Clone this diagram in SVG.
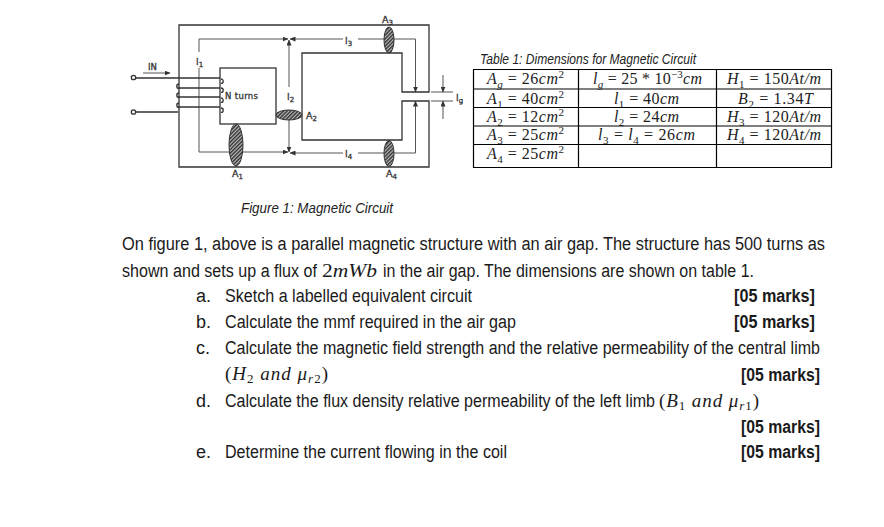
<svg xmlns="http://www.w3.org/2000/svg" width="884" height="527" viewBox="0 0 884 527">
<style>
.c{fill:none;stroke:#333;stroke-width:1.3}
.m{fill:none;stroke:#555;stroke-width:1}
.d{font:9.500px "DejaVu Sans",sans-serif;fill:#333;stroke:#333;stroke-width:.3}
.d tspan{font-size:7px}
.n{font:8.500px "DejaVu Sans",sans-serif;fill:#333;stroke:#333;stroke-width:.3}
.b{font:18px "Liberation Sans",Arial,sans-serif;fill:#1a1a1a}
.bb{font:bold 18px "Liberation Sans",Arial,sans-serif;fill:#1a1a1a}
.i{font:italic 14px "Liberation Sans",Arial,sans-serif;fill:#222}
.t{font:16px "Liberation Serif","Times New Roman",serif;fill:#222}
.x{font:19px "Liberation Serif","Times New Roman",serif;fill:#1a1a1a}
.v{font-style:italic}
.u{font-size:11px}
.su{font-size:13px}
.g{fill:none;stroke:#000;stroke-width:1.2}
</style>
<defs>
<pattern id="h" width="2.600" height="2.600" patternUnits="userSpaceOnUse" patternTransform="rotate(45)"><rect width="2.600" height="2.600" fill="#bbb"/><rect width="1.400" height="2.600" fill="#333"/></pattern>
<marker id="a" markerUnits="userSpaceOnUse" markerWidth="6" markerHeight="5" refX="5.500" refY="2.500" orient="auto"><path d="M0 0L6 2.500L0 5z" fill="#333"/></marker>
</defs>
<rect width="884" height="527" fill="#fff"/>
<g id="core">
<path class="c" d="M179 25H429V92H402V53H302V140H402V101H429V167H179Z"/>
<rect class="c" x="220" y="68" width="56" height="56"/>
</g>
<g id="connectors">
<path class="m" d="M199 52V39H288" marker-end="url(#a)"/>
<path class="m" d="M199 68V152H288" marker-end="url(#a)"/>
<path class="m" d="M343 39H290" marker-end="url(#a)"/>
<path class="m" d="M358 39H415.500V92" marker-end="url(#a)"/>
<path class="m" d="M343 153H290" marker-end="url(#a)"/>
<path class="m" d="M358 153H415.500V101" marker-end="url(#a)"/>
<path class="m" d="M289 87V40" marker-end="url(#a)"/>
<path class="m" d="M289 120V152" marker-end="url(#a)"/>
<path class="m" d="M431 92H453M431 101H453"/>
<path class="m" d="M443 75V92" marker-end="url(#a)"/>
<path class="m" d="M443 119V101" marker-end="url(#a)"/>
<path class="m" d="M143 73H170" marker-end="url(#a)"/>
</g>
<g id="coil">
<path class="c" d="M136 78H220M178 88H220M178 97H220M178 107H220M136 112H178"/>
<circle class="c" cx="133.500" cy="77.500" r="2.200"/><circle class="c" cx="133.500" cy="112" r="2.200"/>
<path class="c" d="M179 84a2.200 2.200 0 0 0 0 4.400M179 93a2.200 2.200 0 0 0 0 4.400M179 103a2.200 2.200 0 0 0 0 4.400M221 79a2.200 2.200 0 0 1 0 4.400M221 88a2.200 2.200 0 0 1 0 4.400M221 98a2.200 2.200 0 0 1 0 4.400M221 108a2.200 2.200 0 0 1 0 4.400"/>
</g>
<g id="sections">
<ellipse cx="236" cy="145" rx="7" ry="21" fill="url(#h)" stroke="#333"/>
<ellipse cx="289" cy="115" rx="13" ry="5" fill="url(#h)" stroke="#333"/>
<ellipse cx="389" cy="40" rx="5" ry="13" fill="url(#h)" stroke="#333"/>
<ellipse cx="389" cy="153.500" rx="5" ry="13" fill="url(#h)" stroke="#333"/>
</g>
<g id="diagram-labels">
<text class="n" x="148" y="70">IN</text>
<text class="d" x="196" y="65">l<tspan dy="2">1</tspan></text>
<text class="n" x="225" y="99" textLength="33">N turns</text>
<text class="d" x="287" y="100">l<tspan dy="2">2</tspan></text>
<text class="d" x="306" y="119">A<tspan dy="2">2</tspan></text>
<text class="d" x="345" y="44">l<tspan dy="2">3</tspan></text>
<text class="d" x="345" y="157">l<tspan dy="2">4</tspan></text>
<text class="d" x="382" y="23">A<tspan dy="2">3</tspan></text>
<text class="d" x="386" y="177">A<tspan dy="2">4</tspan></text>
<text class="d" x="232" y="177">A<tspan dy="2">1</tspan></text>
<text class="d" x="456" y="101">l<tspan dy="2">g</tspan></text>
</g>
<text class="i" x="241" y="213" textLength="152" lengthAdjust="spacingAndGlyphs">Figure 1: Magnetic Circuit</text>
<g id="table">
<text class="i" x="480" y="64" textLength="216" lengthAdjust="spacingAndGlyphs">Table 1: Dimensions for Magnetic Circuit</text>
<text class="t" x="487" y="84" textLength="77"><tspan class="v">A</tspan><tspan class="u v" dy="4">g</tspan><tspan dy="-4"> = 26</tspan><tspan class="v">cm</tspan><tspan class="u" dy="-6">2</tspan></text>
<text class="t" x="487" y="104" textLength="77"><tspan class="v">A</tspan><tspan class="u" dy="4">1</tspan><tspan dy="-4"> = 40</tspan><tspan class="v">cm</tspan><tspan class="u" dy="-6">2</tspan></text>
<text class="t" x="487" y="122" textLength="77"><tspan class="v">A</tspan><tspan class="u" dy="4">2</tspan><tspan dy="-4"> = 12</tspan><tspan class="v">cm</tspan><tspan class="u" dy="-6">2</tspan></text>
<text class="t" x="487" y="140" textLength="77"><tspan class="v">A</tspan><tspan class="u" dy="4">3</tspan><tspan dy="-4"> = 25</tspan><tspan class="v">cm</tspan><tspan class="u" dy="-6">2</tspan></text>
<text class="t" x="487" y="159" textLength="77"><tspan class="v">A</tspan><tspan class="u" dy="4">4</tspan><tspan dy="-4"> = 25</tspan><tspan class="v">cm</tspan><tspan class="u" dy="-6">2</tspan></text>
<text class="t" x="593" y="84" textLength="109"><tspan class="v">l</tspan><tspan class="u v" dy="4">g</tspan><tspan dy="-4"> = 25 * 10</tspan><tspan class="u" dy="-6">−3</tspan><tspan class="v" dy="6">cm</tspan></text>
<text class="t" x="614" y="104" textLength="65"><tspan class="v">l</tspan><tspan class="u" dy="4">1</tspan><tspan dy="-4"> = 40</tspan><tspan class="v">cm</tspan></text>
<text class="t" x="614" y="122" textLength="65"><tspan class="v">l</tspan><tspan class="u" dy="4">2</tspan><tspan dy="-4"> = 24</tspan><tspan class="v">cm</tspan></text>
<text class="t" x="598" y="140" textLength="97"><tspan class="v">l</tspan><tspan class="u" dy="4">3</tspan><tspan dy="-4"> = </tspan><tspan class="v">l</tspan><tspan class="u" dy="4">4</tspan><tspan dy="-4"> = 26</tspan><tspan class="v">cm</tspan></text>
<text class="t" x="727" y="84" textLength="94"><tspan class="v">H</tspan><tspan class="u" dy="4">1</tspan><tspan dy="-4"> = 150</tspan><tspan class="v">At/m</tspan></text>
<text class="t" x="738" y="104" textLength="75"><tspan class="v">B</tspan><tspan class="u" dy="4">2</tspan><tspan dy="-4"> = 1.34</tspan><tspan class="v">T</tspan></text>
<text class="t" x="727" y="122" textLength="94"><tspan class="v">H</tspan><tspan class="u" dy="4">3</tspan><tspan dy="-4"> = 120</tspan><tspan class="v">At/m</tspan></text>
<text class="t" x="727" y="140" textLength="94"><tspan class="v">H</tspan><tspan class="u" dy="4">4</tspan><tspan dy="-4"> = 120</tspan><tspan class="v">At/m</tspan></text>
<path class="g" d="M473.500 69.500H831.500V167.500H473.500ZM473.500 89H831.500M473.500 107.500H831.500M473.500 126H831.500M473.500 144.500H831.500M578.500 69.500V167.500M716.500 69.500V167.500"/>
</g>
<g id="questions">
<text class="b" x="122" y="250" textLength="703" lengthAdjust="spacingAndGlyphs">On figure 1, above is a parallel magnetic structure with an air gap. The structure has 500 turns as</text>
<text class="b" x="122" y="277" textLength="195" lengthAdjust="spacingAndGlyphs">shown and sets up a flux of</text>
<text class="x" x="322" y="277" textLength="55" lengthAdjust="spacingAndGlyphs">2<tspan class="v">mWb</tspan></text>
<text class="b" x="383" y="277" textLength="371" lengthAdjust="spacingAndGlyphs">in the air gap. The dimensions are shown on table 1.</text>
<text class="b" x="196" y="302">a.</text>
<text class="b" x="225" y="302" textLength="247" lengthAdjust="spacingAndGlyphs">Sketch a labelled equivalent circuit</text>
<text class="bb" x="734" y="302" textLength="81" lengthAdjust="spacingAndGlyphs">[05 marks]</text>
<text class="b" x="196" y="328">b.</text>
<text class="b" x="225" y="328" textLength="291" lengthAdjust="spacingAndGlyphs">Calculate the mmf required in the air gap</text>
<text class="bb" x="734" y="328" textLength="81" lengthAdjust="spacingAndGlyphs">[05 marks]</text>
<text class="b" x="196" y="354">c.</text>
<text class="b" x="225" y="354" textLength="595" lengthAdjust="spacingAndGlyphs">Calculate the magnetic field strength and the relative permeability of the central limb</text>
<text class="x" x="225" y="380" textLength="103">(<tspan class="v">H</tspan><tspan class="su" dy="3">2</tspan><tspan class="v" dy="-3"> and μ</tspan><tspan class="su v" dy="3">r</tspan><tspan class="su">2</tspan><tspan dy="-3">)</tspan></text>
<text class="bb" x="741" y="381" textLength="79" lengthAdjust="spacingAndGlyphs">[05 marks]</text>
<text class="b" x="196" y="407">d.</text>
<text class="b" x="225" y="407" textLength="430" lengthAdjust="spacingAndGlyphs">Calculate the flux density relative permeability of the left limb</text>
<text class="x" x="659" y="407" textLength="100">(<tspan class="v">B</tspan><tspan class="su" dy="3">1</tspan><tspan class="v" dy="-3"> and μ</tspan><tspan class="su v" dy="3">r</tspan><tspan class="su">1</tspan><tspan dy="-3">)</tspan></text>
<text class="bb" x="741" y="433" textLength="79" lengthAdjust="spacingAndGlyphs">[05 marks]</text>
<text class="b" x="196" y="458">e.</text>
<text class="b" x="225" y="458" textLength="282" lengthAdjust="spacingAndGlyphs">Determine the current flowing in the coil</text>
<text class="bb" x="741" y="458" textLength="79" lengthAdjust="spacingAndGlyphs">[05 marks]</text>
</g>
</svg>
